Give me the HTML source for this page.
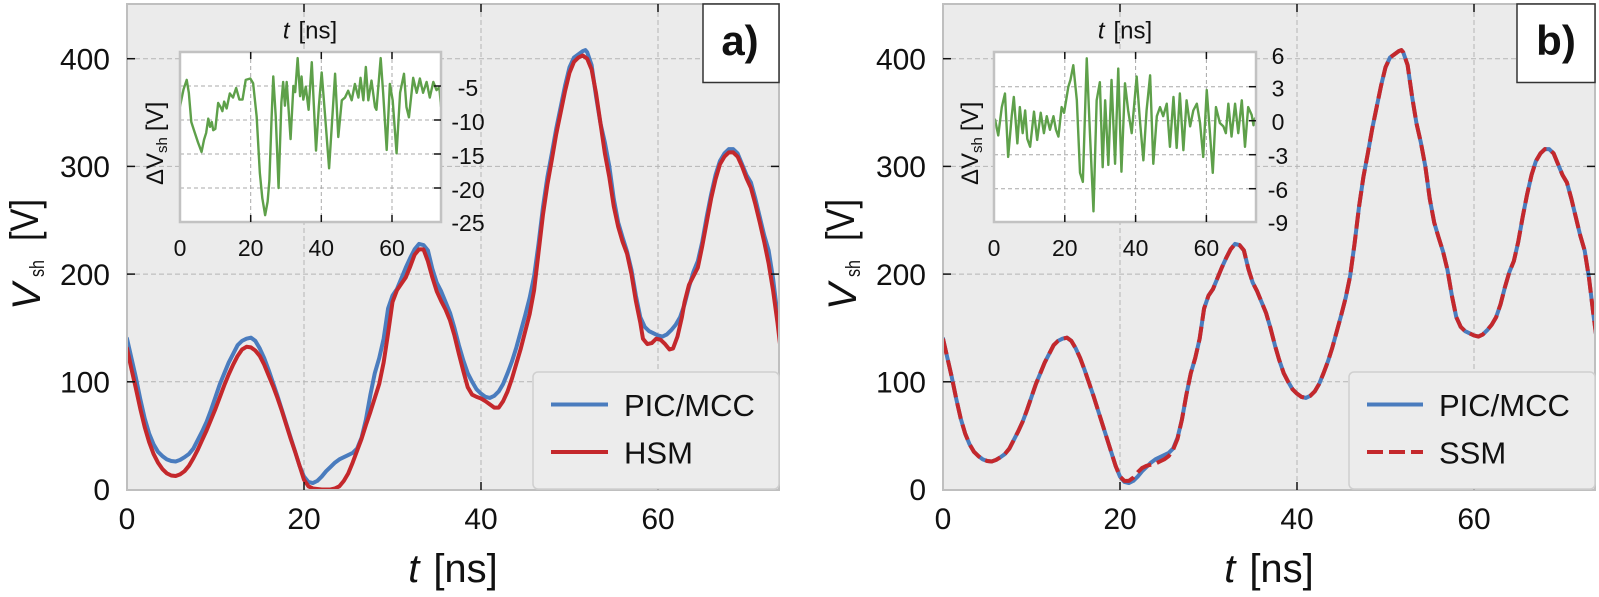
<!DOCTYPE html>
<html>
<head>
<meta charset="utf-8">
<style>
  html, body { margin: 0; padding: 0; background: #ffffff; }
  svg { display: block; }
  text { font-family: "Liberation Sans", "DejaVu Sans", sans-serif; fill: #111; }
  .cv { fill: none; vector-effect: non-scaling-stroke; stroke-linejoin: round; stroke-linecap: round; }
</style>
</head>
<body>
<svg width="1599" height="597" viewBox="0 0 1599 597" xmlns="http://www.w3.org/2000/svg">
  <defs>
    <clipPath id="cA"><rect x="127" y="4" width="652" height="486"/></clipPath>
    <clipPath id="cB"><rect x="943" y="4" width="652" height="486"/></clipPath>
    <clipPath id="cIA"><rect x="180" y="52" width="261" height="170"/></clipPath>
    <clipPath id="cIB"><rect x="994" y="52" width="262" height="170"/></clipPath>
  </defs>
  <rect x="0" y="0" width="1599" height="597" fill="#ffffff"/>

  <!-- ================= PANEL A ================= -->
  <rect x="127" y="4" width="652" height="486" fill="#ebebeb"/>
  <g stroke="#b5b5b5" stroke-width="1" stroke-dasharray="5 3">
    <line x1="304" y1="4" x2="304" y2="490"/>
    <line x1="481" y1="4" x2="481" y2="490"/>
    <line x1="658" y1="4" x2="658" y2="490"/>
    <line x1="127" y1="381.8" x2="779" y2="381.8"/>
    <line x1="127" y1="274.1" x2="779" y2="274.1"/>
    <line x1="127" y1="166.4" x2="779" y2="166.4"/>
    <line x1="127" y1="58.7" x2="779" y2="58.7"/>
  </g>
  <g clip-path="url(#cA)">
    <g transform="translate(127 489.5) scale(8.85 -1.077)">
      <polyline class="cv" stroke="#4a7cbe" stroke-width="4" points="0,140 0.5,122 1,104 1.5,84 2,66 2.5,52 3,42 3.5,35 4,31 4.5,28 5,26.5 5.5,26 6,27.5 6.5,30 7,33 7.5,38 8,46 8.5,54 9,63 9.5,74 10,86 10.5,98 11,108 11.5,118 12,126 12.5,134 13,138 13.5,140 14,141 14.5,138 15,131 15.5,122 16,111 16.5,99 17,87 17.5,74 18,61 18.5,48 19,35 19.5,22 20,12 20.5,7 21,6 21.5,8 22,12 22.5,17 23,21 23.5,25 24,28 24.5,30 25,32 25.5,34 26,38 26.5,48 27,65 27.5,88 28,108 28.5,122 29,140 29.5,168 30,180 30.5,186 31,196 31.5,206 32,215 32.5,223 33,228 33.5,227 34,222 34.5,205 35,192 35.5,184 36,174 36.5,164 37,150 37.5,134 38,120 38.5,108 39,100 39.5,93 40,89 40.5,86 41,85 41.5,87 42,91 42.5,98 43,108 43.5,119 44,132 44.5,147 45,162 45.5,178 46,198 46.5,228 47,262 47.5,290 48,312 48.5,335 49,355 49.5,375 50,392 50.5,401 51,404 51.5,407 51.8,408 52,406 52.5,394 53,365 53.5,340 54,322 54.5,300 55,270 55.5,248 56,234 56.5,221 57,204 57.5,180 58,160 58.5,151 59,147 59.5,145 60,143 60.5,142 61,144 61.5,148 62,153 62.5,160 63,172 63.5,188 64,202 64.5,212 65,230 65.5,253 66,274 66.5,292 67,305 67.5,312 68,316 68.5,316 69,312 69.5,302 70,292 70.5,285 71,270 71.5,253 72,236 72.5,222 73,196 73.5,162 73.9,137"/>
      <polyline class="cv" stroke="#c4282c" stroke-width="4" points="0,131 0.5,112 1,94 1.5,75 2,58 2.5,44 3,33 3.5,25 4,19 4.5,15 5,13 5.5,12.5 6,14 6.5,17 7,22 7.5,29 8,37 8.5,46 9,55 9.5,65 10,75 10.5,86 11,97 11.5,107 12,116 12.5,124 13,130 13.5,132.5 14,132 14.5,129 15,124 15.5,116 16,106 16.5,96 17,85 17.5,73 18,60 18.5,47 19,35 19.5,22 20,9 20.5,3 21,1 22,0 23,0 23.5,1 24,3 24.5,8 25,15 25.5,25 26,36 26.5,47 27,60 27.5,72 28,85 28.5,98 29,118 29.5,145 30,174 30.5,185 31,191 31.5,197 32,207 32.5,218 33,223 33.5,223 34,212 34.5,197 35,184 35.5,175 36,167 36.5,157 37,143 37.5,126 38,110 38.5,95 39,88 39.5,86 40,84.5 40.5,82 41,79 41.5,76 42,76 42.5,82 43,91 43.5,103 44,117 44.5,131 45,147 45.5,163 46,185 46.5,220 47,255 47.5,283 48,306 48.5,330 49,350 49.5,370 50,387 50.5,397 51,401 51.5,403 52,400 52.5,390 53,368 53.5,340 54,312 54.5,290 55,263 55.5,244 56,230 56.5,219 57,200 57.5,175 58,155 58.3,140 58.8,135 59.3,136 59.8,140 60.3,139 60.8,135 61.3,130 61.7,131 62.2,142 62.7,160 63,174 63.5,190 64,198 64.5,206 65,226 65.5,248 66,270 66.5,288 67,302 67.5,309 68,313 68.5,313 69,309 69.5,300 70,289 70.5,280 71,265 71.5,248 72,230 72.5,210 73,185 73.5,155 73.9,127"/>
    </g>
  </g>
  <rect x="127" y="4" width="652" height="486" fill="none" stroke="#bfbfbf" stroke-width="2"/>
  <g stroke="#111" stroke-width="1.5">
    <line x1="127" y1="381.8" x2="135" y2="381.8"/>
    <line x1="127" y1="274.1" x2="135" y2="274.1"/>
    <line x1="127" y1="166.4" x2="135" y2="166.4"/>
    <line x1="127" y1="58.7" x2="135" y2="58.7"/>
    <line x1="771" y1="381.8" x2="779" y2="381.8"/>
    <line x1="771" y1="274.1" x2="779" y2="274.1"/>
    <line x1="771" y1="166.4" x2="779" y2="166.4"/>
    <line x1="304" y1="4" x2="304" y2="12"/>
    <line x1="481" y1="4" x2="481" y2="12"/>
    <line x1="658" y1="4" x2="658" y2="12"/>
    <line x1="304" y1="482" x2="304" y2="490"/>
    <line x1="481" y1="482" x2="481" y2="490"/>
    <line x1="658" y1="482" x2="658" y2="490"/>
  </g>

  <!-- inset A -->
  <rect x="180" y="52" width="261" height="170" fill="#ffffff"/>
  <g stroke="#a8a8a8" stroke-width="1" stroke-dasharray="4 3">
    <line x1="250.7" y1="52" x2="250.7" y2="222"/>
    <line x1="321.3" y1="52" x2="321.3" y2="222"/>
    <line x1="392" y1="52" x2="392" y2="222"/>
    <line x1="180" y1="86" x2="441" y2="86"/>
    <line x1="180" y1="120" x2="441" y2="120"/>
    <line x1="180" y1="154" x2="441" y2="154"/>
    <line x1="180" y1="188" x2="441" y2="188"/>
  </g>
  <g clip-path="url(#cIA)">
    <g transform="translate(180 52) scale(3.533 -6.8)">
      <polyline class="cv" stroke="#5ea04a" stroke-width="2.4" points="0,-8 1,-5.5 1.9,-4.1 2.5,-6 3.2,-10.3 4.2,-11.9 5.1,-13.3 6.1,-14.7 6.8,-12.9 7.4,-11.9 8,-9.8 8.5,-11 9,-10.3 9.4,-11.5 10,-11.3 10.8,-7.5 11.6,-8.2 12,-8.7 12.5,-7.3 13.2,-8.3 14.1,-6.1 15,-6.7 15.9,-5.3 16.8,-7 17.7,-7 18.6,-4.1 19.9,-3.9 20.7,-4.6 21.7,-9.5 22.6,-17.8 23.3,-21.5 24.1,-24 24.8,-22 25.3,-18.9 25.9,-10 26.4,-3.6 27.1,-9.5 27.9,-20 28.7,-7.4 29.2,-4.4 29.7,-7.9 30.2,-4.4 30.6,-7.4 31.3,-12.8 32.1,-5 32.6,-5.9 33.3,-0.9 34,-6.5 34.4,-3.6 34.9,-7 35.6,-5.1 36.4,-8.5 37.3,-1.5 38.5,-14.5 39.3,-8 40.1,-3 41.1,-9.6 42.2,-17.1 43.9,-3.2 44.8,-12.5 45.8,-7.1 46.7,-6.7 47.6,-5.7 48.6,-7.1 49.5,-4.7 50.5,-6.7 51.1,-3.8 51.9,-7.1 52.6,-2.2 53.3,-7.1 54.2,-4.2 55.2,-8.1 55.6,-8.5 56.8,-0.9 57.5,-6 58.5,-14.4 59.4,-4.7 60.2,-7.1 61.3,-14.9 62.3,-6 63.4,-3.2 64.1,-8.1 64.8,-9.6 66,-3.8 67,-6 67.9,-3.9 68.8,-6 69.8,-4.4 70.7,-6.7 71.7,-4.4 72.6,-5.6 73.4,-5.2 73.9,-8.1"/>
    </g>
  </g>
  <rect x="180" y="52" width="261" height="170" fill="none" stroke="#c2c2c2" stroke-width="2.5"/>
  <g stroke="#111" stroke-width="1.5">
    <line x1="250.7" y1="52" x2="250.7" y2="59"/>
    <line x1="321.3" y1="52" x2="321.3" y2="59"/>
    <line x1="392" y1="52" x2="392" y2="59"/>
    <line x1="250.7" y1="215" x2="250.7" y2="222"/>
    <line x1="321.3" y1="215" x2="321.3" y2="222"/>
    <line x1="392" y1="215" x2="392" y2="222"/>
    <line x1="434" y1="86" x2="441" y2="86"/>
    <line x1="434" y1="120" x2="441" y2="120"/>
    <line x1="434" y1="154" x2="441" y2="154"/>
    <line x1="434" y1="188" x2="441" y2="188"/>
  </g>
  <g font-size="23" text-anchor="middle">
    <text x="180" y="256">0</text>
    <text x="250.7" y="256">20</text>
    <text x="321.3" y="256">40</text>
    <text x="392" y="256">60</text>
    <text x="468" y="96">-5</text>
    <text x="468" y="130">-10</text>
    <text x="468" y="164">-15</text>
    <text x="468" y="198">-20</text>
    <text x="468" y="231">-25</text>
  </g>
  <text x="310" y="38.5" font-size="24" text-anchor="middle"><tspan font-style="italic">t</tspan><tspan dx="9">[ns]</tspan></text>
  <text transform="translate(163 185) rotate(-90)" font-size="24">ΔV<tspan font-size="15" dy="4">sh</tspan><tspan dy="-4" dx="6">[V]</tspan></text>

  <!-- legend A -->
  <rect x="533" y="372" width="246" height="117" rx="5" fill="#ececec" stroke="#cfcfcf" stroke-width="1.5"/>
  <line x1="551" y1="404.5" x2="608" y2="404.5" stroke="#4a7cbe" stroke-width="4"/>
  <line x1="551" y1="452" x2="608" y2="452" stroke="#c4282c" stroke-width="4"/>
  <text x="624" y="416" font-size="31">PIC/MCC</text>
  <text x="624" y="463.5" font-size="31">HSM</text>

  <!-- box a) -->
  <rect x="703" y="4" width="76" height="78.5" fill="#ffffff" stroke="#333" stroke-width="1.5"/>
  <text x="740" y="55" font-size="42" font-weight="bold" text-anchor="middle">a)</text>

  <!-- axis labels A -->
  <g font-size="30" text-anchor="end">
    <text x="110" y="500.2">0</text>
    <text x="110" y="392.5">100</text>
    <text x="110" y="284.8">200</text>
    <text x="110" y="177.1">300</text>
    <text x="110" y="69.4">400</text>
  </g>
  <g font-size="30" text-anchor="middle">
    <text x="127" y="529">0</text>
    <text x="304" y="529">20</text>
    <text x="481" y="529">40</text>
    <text x="658" y="529">60</text>
  </g>
  <text x="453" y="582" font-size="40" text-anchor="middle"><tspan font-style="italic">t</tspan><tspan dx="14">[ns]</tspan></text>
  <text transform="translate(40 310) rotate(-90)" font-size="40" font-style="italic">V</text>
  <text transform="translate(44 277) rotate(-90)" font-size="20" textLength="17" lengthAdjust="spacingAndGlyphs">sh</text>
  <text transform="translate(38 241) rotate(-90)" font-size="40" textLength="42" lengthAdjust="spacingAndGlyphs">[V]</text>

  <!-- ================= PANEL B ================= -->
  <rect x="943" y="4" width="652" height="486" fill="#ebebeb"/>
  <g stroke="#b5b5b5" stroke-width="1" stroke-dasharray="5 3">
    <line x1="1120" y1="4" x2="1120" y2="490"/>
    <line x1="1297" y1="4" x2="1297" y2="490"/>
    <line x1="1474" y1="4" x2="1474" y2="490"/>
    <line x1="943" y1="381.8" x2="1595" y2="381.8"/>
    <line x1="943" y1="274.1" x2="1595" y2="274.1"/>
    <line x1="943" y1="166.4" x2="1595" y2="166.4"/>
    <line x1="943" y1="58.7" x2="1595" y2="58.7"/>
  </g>
  <g clip-path="url(#cB)">
    <g transform="translate(943 489.5) scale(8.85 -1.077)">
      <polyline class="cv" stroke="#4a7cbe" stroke-width="4" points="0,140 0.5,122 1,104 1.5,84 2,66 2.5,52 3,42 3.5,35 4,31 4.5,28 5,26.5 5.5,26 6,27.5 6.5,30 7,33 7.5,38 8,46 8.5,54 9,63 9.5,74 10,86 10.5,98 11,108 11.5,118 12,126 12.5,134 13,138 13.5,140 14,141 14.5,138 15,131 15.5,122 16,111 16.5,99 17,87 17.5,74 18,61 18.5,48 19,35 19.5,22 20,12 20.5,7 21,6 21.5,8 22,12 22.5,17 23,21 23.5,25 24,28 24.5,30 25,32 25.5,34 26,38 26.5,48 27,65 27.5,88 28,108 28.5,122 29,140 29.5,168 30,180 30.5,186 31,196 31.5,206 32,215 32.5,223 33,228 33.5,227 34,222 34.5,205 35,192 35.5,184 36,174 36.5,164 37,150 37.5,134 38,120 38.5,108 39,100 39.5,93 40,89 40.5,86 41,85 41.5,87 42,91 42.5,98 43,108 43.5,119 44,132 44.5,147 45,162 45.5,178 46,198 46.5,228 47,262 47.5,290 48,312 48.5,335 49,355 49.5,375 50,392 50.5,401 51,404 51.5,407 51.8,408 52,406 52.5,394 53,365 53.5,340 54,322 54.5,300 55,270 55.5,248 56,234 56.5,221 57,204 57.5,180 58,160 58.5,151 59,147 59.5,145 60,143 60.5,142 61,144 61.5,148 62,153 62.5,160 63,172 63.5,188 64,202 64.5,212 65,230 65.5,253 66,274 66.5,292 67,305 67.5,312 68,316 68.5,316 69,312 69.5,302 70,292 70.5,285 71,270 71.5,253 72,236 72.5,222 73,196 73.5,162 73.9,137"/>
      <polyline class="cv" stroke="#c4282c" stroke-width="4" stroke-dasharray="16 6" style="stroke-linecap:butt" points="0,140 0.5,122 1,104 1.5,84 2,66 2.5,52 3,42 3.5,35 4,31 4.5,28 5,26.5 5.5,26 6,27.5 6.5,30 7,33 7.5,38 8,46 8.5,54 9,63 9.5,74 10,86 10.5,98 11,108 11.5,118 12,126 12.5,134 13,138 13.5,140 14,141 14.5,138 15,131 15.5,122 16,111 16.5,99 17,87 17.5,74 18,61 18.5,48 19,35 19.5,22 20,12 20.5,8 21,8 21.5,11 22,16 22.5,20 23,22 23.5,23 24,24 24.5,26 25,28 25.5,31 26,37 26.5,47 27,65 27.5,88 28,108 28.5,122 29,140 29.5,168 30,180 30.5,186 31,196 31.5,206 32,215 32.5,223 33,228 33.5,227 34,222 34.5,205 35,192 35.5,184 36,174 36.5,164 37,150 37.5,134 38,120 38.5,108 39,100 39.5,93 40,89 40.5,86 41,85 41.5,87 42,91 42.5,98 43,108 43.5,119 44,132 44.5,147 45,162 45.5,178 46,198 46.5,228 47,262 47.5,290 48,312 48.5,335 49,355 49.5,375 50,392 50.5,401 51,404 51.5,407 51.8,408 52,406 52.5,394 53,365 53.5,340 54,322 54.5,300 55,270 55.5,248 56,234 56.5,221 57,204 57.5,180 58,160 58.5,151 59,147 59.5,145 60,143 60.5,142 61,144 61.5,148 62,153 62.5,160 63,172 63.5,188 64,202 64.5,212 65,230 65.5,253 66,274 66.5,292 67,305 67.5,312 68,316 68.5,316 69,312 69.5,302 70,292 70.5,285 71,270 71.5,253 72,236 72.5,222 73,196 73.5,162 73.9,137"/>
    </g>
  </g>
  <rect x="943" y="4" width="652" height="486" fill="none" stroke="#bfbfbf" stroke-width="2"/>
  <g stroke="#111" stroke-width="1.5">
    <line x1="943" y1="381.8" x2="951" y2="381.8"/>
    <line x1="943" y1="274.1" x2="951" y2="274.1"/>
    <line x1="943" y1="166.4" x2="951" y2="166.4"/>
    <line x1="943" y1="58.7" x2="951" y2="58.7"/>
    <line x1="1587" y1="381.8" x2="1595" y2="381.8"/>
    <line x1="1587" y1="274.1" x2="1595" y2="274.1"/>
    <line x1="1587" y1="166.4" x2="1595" y2="166.4"/>
    <line x1="1120" y1="4" x2="1120" y2="12"/>
    <line x1="1297" y1="4" x2="1297" y2="12"/>
    <line x1="1474" y1="4" x2="1474" y2="12"/>
    <line x1="1120" y1="482" x2="1120" y2="490"/>
    <line x1="1297" y1="482" x2="1297" y2="490"/>
    <line x1="1474" y1="482" x2="1474" y2="490"/>
  </g>

  <!-- inset B -->
  <rect x="994" y="52" width="262" height="170" fill="#ffffff"/>
  <g stroke="#a8a8a8" stroke-width="1" stroke-dasharray="4 3">
    <line x1="1064.8" y1="52" x2="1064.8" y2="222"/>
    <line x1="1135.6" y1="52" x2="1135.6" y2="222"/>
    <line x1="1206.4" y1="52" x2="1206.4" y2="222"/>
    <line x1="994" y1="86.7" x2="1256" y2="86.7"/>
    <line x1="994" y1="120.7" x2="1256" y2="120.7"/>
    <line x1="994" y1="154.7" x2="1256" y2="154.7"/>
    <line x1="994" y1="188.7" x2="1256" y2="188.7"/>
  </g>
  <g clip-path="url(#cIB)">
    <g transform="translate(994 120.7) scale(3.54 -11.33)">
      <polyline class="cv" stroke="#5ea04a" stroke-width="2.4" points="0.3,0.1 1.2,-1.3 2.2,1.2 3.1,2.4 4,-3.2 5,0.4 5.6,2.1 6.6,-2 7.3,1.2 8.1,-1.1 8.8,0.9 9.4,-1.6 10.2,-2.3 11.3,0.8 12.2,-1.7 13.2,0.7 14.1,-1.1 14.9,0.4 15.8,-0.8 16.8,0.4 17.5,-0.8 18.2,-1.4 19.1,1.2 19.8,0.7 21,3 21.6,3.6 22.4,4.9 23.4,1.8 24.3,-4.6 25.1,-5.4 26.2,5.5 27.1,-1.1 28.1,-8 29,1.8 29.9,3.4 30.7,-4.1 31.4,1.8 32.3,-3.9 33.2,3.6 34.2,-3.8 35.1,4.6 36,-4.5 37,3.3 37.9,0.9 38.9,-1.1 40.3,3.9 41.2,0.1 42.2,-3.5 43.1,0.9 44.1,4 45,-3.8 46,0.4 46.9,1.2 47.8,0.4 48.8,1.5 49.7,-2.3 50.7,2.1 51.6,-2.4 52.5,2.4 53.5,-2.6 54.4,1.8 55.4,-0.5 56.3,0.9 57.3,1.5 58.2,-0.2 59.1,-3.2 60.1,2.7 61,-1.1 61.8,-4.6 62.7,1.2 63.8,-0.2 64.8,-0.5 65.5,-1.1 66.2,1.5 67.1,-1.4 68.1,1.5 69,-1.1 70,1.8 70.9,-2.3 71.8,1.2 72.8,0.5 73.3,-0.4 73.7,0.2"/>
    </g>
  </g>
  <rect x="994" y="52" width="262" height="170" fill="none" stroke="#c2c2c2" stroke-width="2.5"/>
  <g stroke="#111" stroke-width="1.5">
    <line x1="1064.8" y1="52" x2="1064.8" y2="59"/>
    <line x1="1135.6" y1="52" x2="1135.6" y2="59"/>
    <line x1="1206.4" y1="52" x2="1206.4" y2="59"/>
    <line x1="1064.8" y1="215" x2="1064.8" y2="222"/>
    <line x1="1135.6" y1="215" x2="1135.6" y2="222"/>
    <line x1="1206.4" y1="215" x2="1206.4" y2="222"/>
    <line x1="1249" y1="86.7" x2="1256" y2="86.7"/>
    <line x1="1249" y1="120.7" x2="1256" y2="120.7"/>
    <line x1="1249" y1="154.7" x2="1256" y2="154.7"/>
    <line x1="1249" y1="188.7" x2="1256" y2="188.7"/>
  </g>
  <g font-size="23" text-anchor="middle">
    <text x="994" y="256">0</text>
    <text x="1064.8" y="256">20</text>
    <text x="1135.6" y="256">40</text>
    <text x="1206.4" y="256">60</text>
    <text x="1278" y="64">6</text>
    <text x="1278" y="96.5">3</text>
    <text x="1278" y="130">0</text>
    <text x="1278" y="164">-3</text>
    <text x="1278" y="198">-6</text>
    <text x="1278" y="231">-9</text>
  </g>
  <text x="1125" y="38.5" font-size="24" text-anchor="middle"><tspan font-style="italic">t</tspan><tspan dx="9">[ns]</tspan></text>
  <text transform="translate(978 185) rotate(-90)" font-size="24">ΔV<tspan font-size="15" dy="4">sh</tspan><tspan dy="-4" dx="6">[V]</tspan></text>

  <!-- legend B -->
  <rect x="1349" y="372" width="246" height="117" rx="5" fill="#ececec" stroke="#cfcfcf" stroke-width="1.5"/>
  <line x1="1367" y1="404.5" x2="1423" y2="404.5" stroke="#4a7cbe" stroke-width="4"/>
  <line x1="1367" y1="452" x2="1423" y2="452" stroke="#c4282c" stroke-width="4" stroke-dasharray="16 6"/>
  <text x="1439" y="416" font-size="31">PIC/MCC</text>
  <text x="1439" y="463.5" font-size="31">SSM</text>

  <!-- box b) -->
  <rect x="1517" y="4" width="78" height="78.5" fill="#ffffff" stroke="#333" stroke-width="1.5"/>
  <text x="1556" y="55" font-size="42" font-weight="bold" text-anchor="middle">b)</text>

  <!-- axis labels B -->
  <g font-size="30" text-anchor="end">
    <text x="926" y="500.2">0</text>
    <text x="926" y="392.5">100</text>
    <text x="926" y="284.8">200</text>
    <text x="926" y="177.1">300</text>
    <text x="926" y="69.4">400</text>
  </g>
  <g font-size="30" text-anchor="middle">
    <text x="943" y="529">0</text>
    <text x="1120" y="529">20</text>
    <text x="1297" y="529">40</text>
    <text x="1474" y="529">60</text>
  </g>
  <text x="1269" y="582" font-size="40" text-anchor="middle"><tspan font-style="italic">t</tspan><tspan dx="14">[ns]</tspan></text>
  <text transform="translate(856 310) rotate(-90)" font-size="40" font-style="italic">V</text>
  <text transform="translate(860 277) rotate(-90)" font-size="20" textLength="17" lengthAdjust="spacingAndGlyphs">sh</text>
  <text transform="translate(854 241) rotate(-90)" font-size="40" textLength="42" lengthAdjust="spacingAndGlyphs">[V]</text>
</svg>
</body>
</html>
